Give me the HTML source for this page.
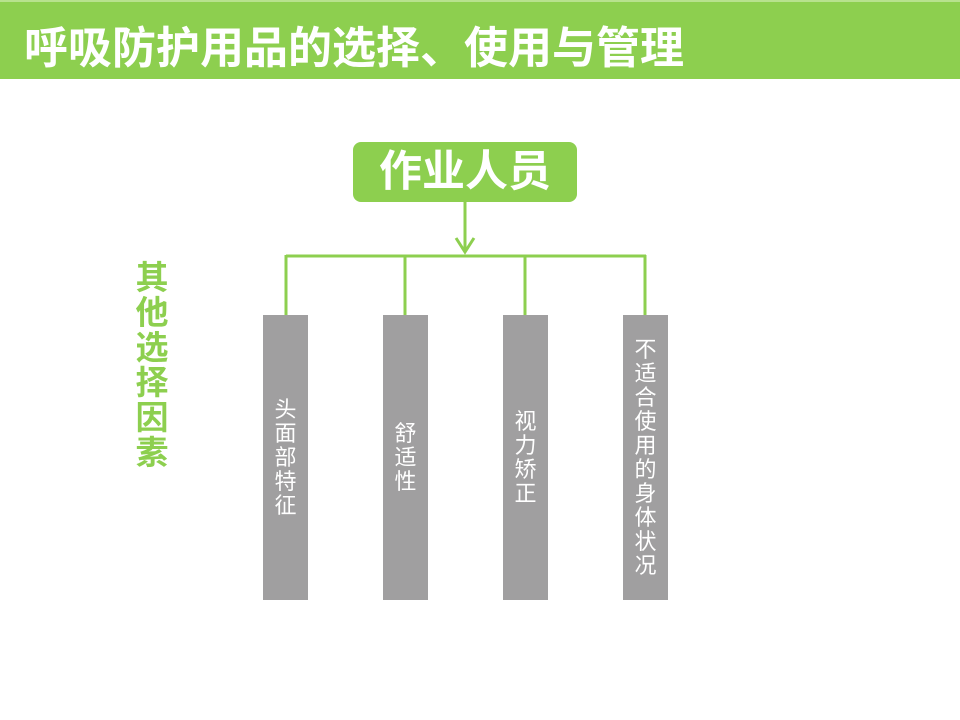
<!DOCTYPE html>
<html><head><meta charset="utf-8"><style>
body{margin:0;width:960px;height:720px;background:#fff;position:relative;overflow:hidden;font-family:"Liberation Sans","Noto Sans CJK SC",sans-serif}
.hdr{position:absolute;left:0;top:0;width:960px;height:79px;background:#8dcf4f;border-top:2px solid #b8e28e;box-sizing:border-box}
.hdr span{position:absolute;left:24px;top:10px;color:#fff;font-size:44px;font-weight:bold;letter-spacing:0px;white-space:nowrap}
.node{position:absolute;left:353px;top:142px;width:224px;height:60px;background:#8dcf4f;border-radius:8px;color:#fff;font-size:43px;font-weight:bold;text-align:center;line-height:60px}
.bar{position:absolute;top:315px;width:45px;height:285px;background:#a09fa0;display:flex;align-items:center;justify-content:center}
.bar span{color:#fff;font-size:22px;width:23px;line-height:24px;text-align:center;word-break:break-all}
.side{position:absolute;left:134px;top:260px;width:36px;color:#8dcf4f;font-size:33px;font-weight:bold;line-height:35px;text-align:center}
</style></head><body>
<div class="hdr"><span>呼吸防护用品的选择、使用与管理</span></div>
<div class="node">作业人员</div>
<svg width="960" height="720" style="position:absolute;left:0;top:0">
<g stroke="#8dcf4f" stroke-width="3" fill="none">
<line x1="465" y1="202" x2="465" y2="252"/>
<polyline points="456,238 465,252 474,238"/>
<line x1="286" y1="256" x2="646" y2="256"/>
<line x1="286" y1="255" x2="286" y2="316"/>
<line x1="405" y1="255" x2="405" y2="316"/>
<line x1="525" y1="255" x2="525" y2="316"/>
<line x1="645" y1="255" x2="645" y2="316"/>
</g></svg>
<div class="side">其他选择因素</div>
<div class="bar" style="left:263px"><span>头面部特征</span></div>
<div class="bar" style="left:383px"><span>舒适性</span></div>
<div class="bar" style="left:503px"><span>视力矫正</span></div>
<div class="bar" style="left:623px"><span>不适合使用的身体状况</span></div>
</body></html>
